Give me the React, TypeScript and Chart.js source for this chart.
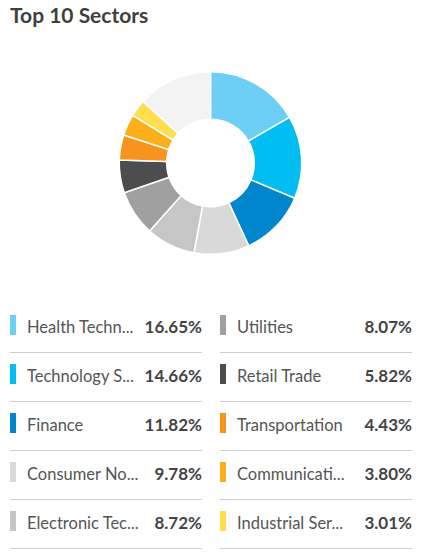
import React, { useEffect, useRef } from "react";
import { Chart, registerables } from "chart.js";

Chart.register(...registerables);

const sectorNames = [
  "Health Techn...",
  "Technology S...",
  "Finance",
  "Consumer No...",
  "Electronic Tec...",
  "Utilities",
  "Retail Trade",
  "Transportation",
  "Communicati...",
  "Industrial Ser...",
];
const sectorValues = [16.65, 14.66, 11.82, 9.78, 8.72, 8.07, 5.82, 4.43, 3.8, 3.01];
const sectorColors = [
  "#6dcff6",
  "#00bdf2",
  "#0086cc",
  "#d9d9d9",
  "#c6c6c6",
  "#a0a0a0",
  "#4d4d4f",
  "#f7941d",
  "#fbb01b",
  "#ffde4f",
];
const otherLabel = "Other";
const otherValue = 13.24;
const otherColor = "#f3f3f3";

const FONT = "Lato, 'Open Sans', sans-serif";

function Donut() {
  const ref = useRef<HTMLCanvasElement | null>(null);
  useEffect(() => {
    if (!ref.current) return;
    const chart = new Chart(ref.current, {
      type: "doughnut",
      data: {
        labels: [...sectorNames, otherLabel],
        datasets: [
          {
            data: [...sectorValues, otherValue],
            backgroundColor: [...sectorColors, otherColor],
            borderColor: "#ffffff",
            borderWidth: 1.5,
          },
        ],
      },
      options: {
        animation: false,
        responsive: true,
        maintainAspectRatio: false,
        cutout: "48%",
        layout: { padding: 0 },
        plugins: {
          legend: { display: false },
          tooltip: { enabled: false },
        },
      },
    });
    return () => chart.destroy();
  }, []);
  return (
    <div style={{ position: "absolute", left: 0, top: 71, width: 421, height: 184 }}>
      <canvas ref={ref} />
    </div>
  );
}

function LegendRow({ name, value, color }: { name: string; value: number; color: string }) {
  return (
    <div
      style={{
        position: "relative",
        height: 48,
        borderBottom: "1.5px solid #cfcfcf",
        boxSizing: "content-box",
      }}
    >
      <div
        style={{
          position: "absolute",
          left: 0,
          top: 11,
          width: 6,
          height: 20,
          background: color,
        }}
      />
      <div
        style={{
          position: "absolute",
          left: 17,
          top: 12.5,
          height: 20,
          lineHeight: "21px",
          fontSize: 16.5,
          color: "#555555",
          whiteSpace: "nowrap",
        }}
      >
        {name}
      </div>
      <div
        style={{
          position: "absolute",
          right: 0,
          top: 12,
          height: 20,
          lineHeight: "21px",
          fontSize: 17,
          fontWeight: 700,
          color: "#444444",
          whiteSpace: "nowrap",
        }}
      >
        {value.toFixed(2)}%
      </div>
    </div>
  );
}

export default function App() {
  const left = sectorNames.slice(0, 5).map((n, i) => ({ n, v: sectorValues[i], c: sectorColors[i] }));
  const right = sectorNames.slice(5).map((n, i) => ({ n, v: sectorValues[i + 5], c: sectorColors[i + 5] }));
  return (
    <div
      style={{
        position: "fixed",
        left: 0,
        top: 0,
        width: 421,
        height: 553,
        background: "#ffffff",
        fontFamily: FONT,
        overflow: "hidden",
      }}
    >
      <div
        style={{
          position: "absolute",
          left: 10,
          top: 1,
          fontSize: 21,
          fontWeight: 700,
          color: "#3f3f3f",
          lineHeight: "28px",
        }}
      >
        Top 10 Sectors
      </div>
      <Donut />
      <div style={{ position: "absolute", left: 10, top: 304, width: 192 }}>
        {left.map((d) => (
          <LegendRow key={d.n} name={d.n} value={d.v} color={d.c} />
        ))}
      </div>
      <div style={{ position: "absolute", left: 220, top: 304, width: 192 }}>
        {right.map((d) => (
          <LegendRow key={d.n} name={d.n} value={d.v} color={d.c} />
        ))}
      </div>
    </div>
  );
}
